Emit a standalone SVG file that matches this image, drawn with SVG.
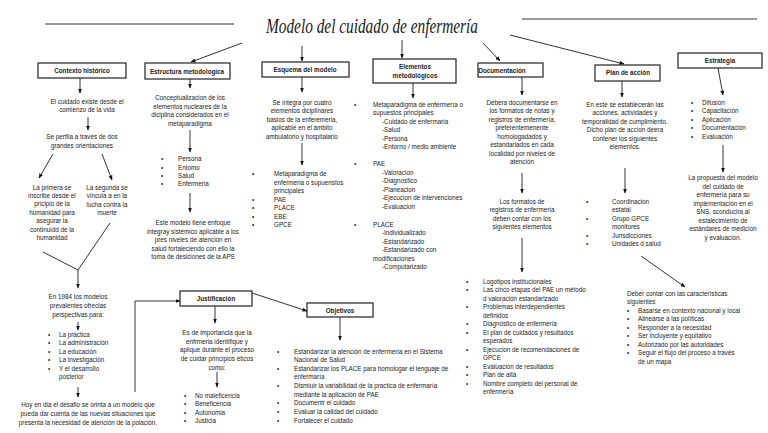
<svg xmlns="http://www.w3.org/2000/svg" width="768" height="433" viewBox="0 0 768 433">
<defs>
<marker id="ah" viewBox="0 0 10 10" refX="9" refY="5" markerWidth="5" markerHeight="5" markerUnits="userSpaceOnUse" orient="auto"><path d="M0,1 L10,5 L0,9 z" fill="#111"/></marker>
</defs>
<style>
text{font-family:"Liberation Sans",Arial,sans-serif;font-size:6.3px;fill:#222}
.c{text-anchor:middle}
.bl{font-weight:bold}
.box{fill:#fff;stroke:#222;stroke-width:1.2}
.ln{stroke:#333;stroke-width:1;fill:none}
.ar{stroke:#333;stroke-width:1;fill:none;marker-end:url(#ah)}
.title{font-family:"Liberation Serif",serif;font-style:italic;font-size:20px;fill:#1a1a1a}
</style>
<rect width="768" height="433" fill="#fff"/>
<g id="title"><text class="title" x="266" y="33" textLength="212" lengthAdjust="spacingAndGlyphs">Modelo del cuidado de enfermería</text></g>

<g id="connectors">
<line class="ln" x1="45" y1="24" x2="234" y2="24"/>
<line class="ln" x1="522" y1="19" x2="757" y2="19"/>
<line class="ar" x1="242" y1="43" x2="191" y2="62"/>
<line class="ar" x1="302" y1="46" x2="302" y2="61"/>
<line class="ar" x1="402" y1="40" x2="402" y2="58"/>
<line class="ar" x1="483" y1="43" x2="500" y2="61"/>
<line class="ar" x1="510" y1="35" x2="624" y2="64"/>
<!-- contexto -->
<line class="ar" x1="80" y1="78" x2="80" y2="93"/>
<line class="ar" x1="88" y1="117" x2="88" y2="130"/>
<line class="ar" x1="53" y1="154" x2="39" y2="178"/>
<line class="ar" x1="102" y1="154" x2="112" y2="180"/>
<line class="ln" x1="43" y1="252" x2="78" y2="270"/>
<line class="ln" x1="110" y1="223" x2="78" y2="270"/>
<line class="ar" x1="78" y1="270" x2="78" y2="288"/>
<line class="ar" x1="78" y1="322" x2="78" y2="330"/>
<line class="ar" x1="78" y1="387" x2="78" y2="397"/>
<polyline class="ar" points="135,392 135,301 180,301"/>
<!-- justificacion / objetivos -->
<line class="ar" x1="215" y1="306" x2="215" y2="323"/>
<line class="ar" x1="217" y1="372" x2="217" y2="387"/>
<line class="ar" x1="252" y1="293" x2="307" y2="311"/>
<line class="ar" x1="340" y1="317" x2="340" y2="340"/>
<!-- estructura -->
<line class="ar" x1="190" y1="79" x2="190" y2="88"/>
<line class="ar" x1="190" y1="130" x2="190" y2="152"/>
<line class="ar" x1="190" y1="193" x2="190" y2="212"/>
<!-- esquema -->
<line class="ar" x1="302" y1="77" x2="302" y2="92"/>
<line class="ar" x1="302" y1="143" x2="302" y2="165"/>
<!-- elementos -->
<line class="ar" x1="413" y1="83" x2="413" y2="98"/>
<!-- documentacion -->
<line class="ar" x1="522" y1="77" x2="522" y2="95"/>
<line class="ar" x1="522" y1="173" x2="522" y2="193"/>
<line class="ar" x1="522" y1="238" x2="522" y2="272"/>
<!-- plan -->
<line class="ar" x1="622" y1="81" x2="622" y2="97"/>
<line class="ar" x1="625" y1="168" x2="625" y2="193"/>
<line class="ar" x1="641" y1="256" x2="685" y2="287"/>
<!-- estrategia -->
<line class="ar" x1="718" y1="68" x2="723" y2="95"/>
<line class="ar" x1="723" y1="145" x2="723" y2="172"/>
</g>

<g id="contexto">
<rect class="box" x="38" y="63" width="88" height="15"/>
<text class="c bl" x="82" y="73">Contexto histórico</text>
<text class="c" x="87" y="104">El cuidado existe desde el</text>
<text class="c" x="87" y="112">comienzo de la vida</text>
<text class="c" x="82" y="139">Se perfila a través de dos</text>
<text class="c" x="82" y="148">grandes orientaciones</text>
<text class="c" x="52" y="190">La primera se</text>
<text class="c" x="52" y="198">inscribe desde el</text>
<text class="c" x="52" y="206">pricipio de la</text>
<text class="c" x="52" y="215">humanidad para</text>
<text class="c" x="52" y="223">asegurar la</text>
<text class="c" x="52" y="232">continuidd de la</text>
<text class="c" x="52" y="240">humanidad</text>
<text class="c" x="107" y="190">La segunda se</text>
<text class="c" x="107" y="198">vincula a en la</text>
<text class="c" x="107" y="207">lucha contra la</text>
<text class="c" x="107" y="215">muerte</text>
<text class="c" x="78" y="299">En 1984 los modelos</text>
<text class="c" x="78" y="308">prevalentes ofrecias</text>
<text class="c" x="78" y="317">perspectivas para:</text>
<text x="48" y="337">•</text><text x="59" y="337">La practica</text>
<text x="48" y="345">•</text><text x="59" y="345">La administración</text>
<text x="48" y="354">•</text><text x="59" y="354">La educación</text>
<text x="48" y="362">•</text><text x="59" y="362">La investigación</text>
<text x="48" y="371">•</text><text x="59" y="371">Y el desarrollo</text>
<text x="59" y="379">posterior</text>
<text class="c" x="88" y="407">Hoy en dia el desafio se orinta a un modelo que</text>
<text class="c" x="88" y="416">pueda dar cuenta de las nuevas situaciones que</text>
<text class="c" x="88" y="425">presenta la necesidad de atención de la polación.</text>
</g>

<g id="justificacion">
<rect class="box" x="180" y="291" width="72" height="15"/>
<text class="c bl" x="216" y="301">Justificación</text>
<text class="c" x="217" y="335">Es de importancia que la</text>
<text class="c" x="217" y="344">enfrmeria identifique y</text>
<text class="c" x="217" y="352">aplique durante el proceso</text>
<text class="c" x="217" y="361">de cuidar principios éticos</text>
<text class="c" x="217" y="370">como:</text>
<text x="184" y="398">•</text><text x="195" y="398">No maleficencia</text>
<text x="184" y="406">•</text><text x="195" y="406">Beneficencia</text>
<text x="184" y="415">•</text><text x="195" y="415">Autonomia</text>
<text x="184" y="423">•</text><text x="195" y="423">Justicia</text>
</g>

<g id="objetivos">
<rect class="box" x="307" y="303" width="66" height="14"/>
<text class="c bl" x="340" y="312.5">Objetivos</text>
<text x="277" y="354">•</text><text x="294" y="354">Estandarizar la atención de enfermería en el Sistema</text>
<text x="294" y="362">Nacional de Salud</text>
<text x="277" y="371">•</text><text x="294" y="371">Estandarizar los PLACE para homologar el lenguaje de</text>
<text x="294" y="379">enfermaría</text>
<text x="277" y="388">•</text><text x="294" y="388">Dismiuir la variabilidad de la practica de enfermaría</text>
<text x="294" y="397">mediante la aplicación de PAE</text>
<text x="277" y="405">•</text><text x="294" y="405">Documentr el cuidado</text>
<text x="277" y="414">•</text><text x="294" y="414">Evaluar la calidad del cuidado</text>
<text x="277" y="423">•</text><text x="294" y="423">Fortalecer el cuidado</text>
</g>

<g id="estructura">
<rect class="box" x="145" y="63" width="85" height="16"/>
<text class="c bl" x="187" y="73.5">Estructura metodologica</text>
<text class="c" x="190" y="100">Conceptualizacion de los</text>
<text class="c" x="190" y="109">elementos nucleares de la</text>
<text class="c" x="190" y="117">diciplina considerados en el</text>
<text class="c" x="190" y="126">metaparadigma</text>
<text x="161" y="161">•</text><text x="178" y="161">Persona</text>
<text x="161" y="170">•</text><text x="178" y="170">Entomo</text>
<text x="161" y="178">•</text><text x="178" y="178">Salud</text>
<text x="161" y="186">•</text><text x="178" y="186">Enfermeria</text>
<text class="c" x="193" y="225">Este modelo tiene enfoque</text>
<text class="c" x="193" y="234">integray sistémico aplicable a los</text>
<text class="c" x="193" y="242">pres niveles de atención en</text>
<text class="c" x="193" y="251">salud fortaleciendo con ello la</text>
<text class="c" x="193" y="259">toma de desiciones de la APS</text>
</g>

<g id="esquema">
<rect class="box" x="262" y="62" width="87" height="15"/>
<text class="c bl" x="305" y="71.5">Esquema del modelo</text>
<text class="c" x="302" y="105">Se integra por cuatro</text>
<text class="c" x="302" y="113">elementos diciplinares</text>
<text class="c" x="302" y="122">basios de la enferemeria,</text>
<text class="c" x="302" y="130">aplicable en el ámbito</text>
<text class="c" x="302" y="139">ambulatorio y hospitalario</text>
<text x="252" y="176">•</text><text x="274" y="176">Metaparadigma de</text>
<text x="274" y="185">enfermeria o supuenstos</text>
<text x="274" y="193">principales</text>
<text x="252" y="202">•</text><text x="274" y="202">PAE</text>
<text x="252" y="210">•</text><text x="274" y="210">PLACE</text>
<text x="252" y="219">•</text><text x="274" y="219">EBE</text>
<text x="252" y="227">•</text><text x="274" y="227">GPCE</text>
</g>

<g id="elementos">
<rect class="box" x="373" y="59" width="83" height="24"/>
<text class="c bl" x="415" y="68.5">Elementos</text>
<text class="c bl" x="415" y="78">metodológicos</text>
<text x="354" y="107">•</text><text x="373" y="107">Metaparadigma de enfermería o</text>
<text x="373" y="115">supuestos principales</text>
<text x="382" y="124">-Cuidado de enfermaria</text>
<text x="382" y="132">-Salud</text>
<text x="382" y="141">-Persona</text>
<text x="382" y="149">-Entorno / medio ambiente</text>
<text x="354" y="166">•</text><text x="373" y="166">PAE</text>
<text x="382" y="175">-Valoracion</text>
<text x="382" y="183">-Diagnostico</text>
<text x="382" y="192">-Planeacion</text>
<text x="382" y="200">-Ejecucion de intervenciones</text>
<text x="382" y="209">-Evaluacion</text>
<text x="354" y="227">•</text><text x="373" y="227">PLACE</text>
<text x="382" y="235">-Individualizado</text>
<text x="382" y="244">-Estandarizado</text>
<text x="382" y="252">-Estandarizado con</text>
<text x="373" y="261">modificaciones</text>
<text x="382" y="269">-Computarizado</text>
</g>

<g id="documentacion">
<rect class="box" x="478" y="63" width="65" height="14"/>
<text class="c bl" x="502" y="72.5">Documentación</text>
<text class="c" x="522" y="105">Debera documentarse en</text>
<text class="c" x="522" y="113">los formatos de notas y</text>
<text class="c" x="522" y="122">registros de enfermería,</text>
<text class="c" x="522" y="130">preferentemenente</text>
<text class="c" x="522" y="139">homologadados y</text>
<text class="c" x="522" y="147">estandariados en cada</text>
<text class="c" x="522" y="156">localidad por niveles de</text>
<text class="c" x="522" y="164">atención</text>
<text class="c" x="522" y="204">Los formatos de</text>
<text class="c" x="522" y="212">registros de enfermería</text>
<text class="c" x="522" y="221">deben contar con los</text>
<text class="c" x="522" y="229">siguientes elementos</text>
<text x="466" y="284">•</text><text x="483" y="284">Logotipos institucionales</text>
<text x="466" y="292">•</text><text x="483" y="292">Las cinco etapas del PAE un método</text>
<text x="483" y="301">d valoración estandarizado</text>
<text x="466" y="309">•</text><text x="483" y="309">Problemas interdependientes</text>
<text x="483" y="318">definidos</text>
<text x="466" y="326">•</text><text x="483" y="326">Diagnóstico de enfermería</text>
<text x="466" y="335">•</text><text x="483" y="335">El plan de cuidados y resultados</text>
<text x="483" y="343">esperados</text>
<text x="466" y="352">•</text><text x="483" y="352">Ejecucion de recomendaciones de</text>
<text x="483" y="360">GPCE</text>
<text x="466" y="369">•</text><text x="483" y="369">Evaluación de resultados</text>
<text x="466" y="377">•</text><text x="483" y="377">Plan de alta</text>
<text x="466" y="386">•</text><text x="483" y="386">Nombre completo del personal de</text>
<text x="483" y="394">enfermería</text>
</g>

<g id="plan">
<rect class="box" x="595" y="65" width="65" height="16"/>
<text class="c bl" x="628" y="75">Plan de acción</text>
<text class="c" x="625" y="107">En este se establecerán las</text>
<text class="c" x="625" y="115">acciones, actividades y</text>
<text class="c" x="625" y="124">temporalidad de cumplimiento.</text>
<text class="c" x="625" y="132">Dicho plan de accion deera</text>
<text class="c" x="625" y="141">contener los siguientes</text>
<text class="c" x="625" y="149">elementos.</text>
<text x="586" y="204">•</text><text x="612" y="204">Coordinacion</text>
<text x="612" y="212">estatal</text>
<text x="586" y="221">•</text><text x="612" y="221">Grupo GPCE</text>
<text x="612" y="229">monitores</text>
<text x="586" y="238">•</text><text x="612" y="238">Jurisdicciones</text>
<text x="586" y="246">•</text><text x="612" y="246">Unidades d salud</text>
<text x="627" y="296">Deber contar con las características</text>
<text x="627" y="304">siguientes</text>
<text x="627" y="313">•</text><text x="638" y="313">Basarse en contexto nacional y local</text>
<text x="627" y="321">•</text><text x="638" y="321">Alinearse a las políticas</text>
<text x="627" y="330">•</text><text x="638" y="330">Responder a la necesidad</text>
<text x="627" y="338">•</text><text x="638" y="338">Ser incluyente y equitativo</text>
<text x="627" y="347">•</text><text x="638" y="347">Autorizado por las autoridades</text>
<text x="627" y="355">•</text><text x="638" y="355">Seguir el flujo del proceso a través</text>
<text x="638" y="364">de un mapa</text>
</g>

<g id="estrategia">
<rect class="box" x="678" y="53" width="84" height="15"/>
<text class="c bl" x="720" y="63">Estrategia</text>
<text x="691" y="105">•</text><text x="702" y="105">Difusión</text>
<text x="691" y="113">•</text><text x="702" y="113">Capacitación</text>
<text x="691" y="122">•</text><text x="702" y="122">Aplicación</text>
<text x="691" y="130">•</text><text x="702" y="130">Documentación</text>
<text x="691" y="139">•</text><text x="702" y="139">Evaluación</text>
<text class="c" x="723" y="180">La propuesta del modelo</text>
<text class="c" x="723" y="189">del cuidado de</text>
<text class="c" x="723" y="197">enfermería para su</text>
<text class="c" x="723" y="206">implementación en el</text>
<text class="c" x="723" y="214">SNS, sconducira al</text>
<text class="c" x="723" y="223">estalecimiento de</text>
<text class="c" x="723" y="231">estándares de medición</text>
<text class="c" x="723" y="240">y evaluación.</text>
</g>
</svg>
